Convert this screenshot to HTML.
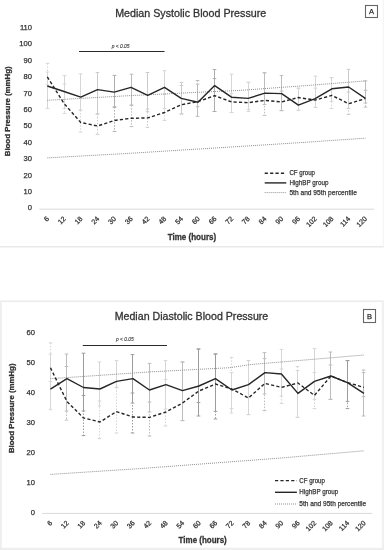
<!DOCTYPE html>
<html><head><meta charset="utf-8"><title>Median Blood Pressure</title>
<style>
html,body{margin:0;padding:0;background:#fff;}
body{width:384px;height:550px;overflow:hidden;position:relative;}
svg{position:absolute;left:0;top:0;}
svg text{font-family:"Liberation Sans", Arial, sans-serif;}
.t{stroke:#333;stroke-width:0.3px;}
.p{stroke:#333;stroke-width:0.1px;}
.n{stroke:#333;stroke-width:0.25px;}
</style></head><body>
<svg width="384" height="550" viewBox="0 0 384 550">
<rect x="0" y="0" width="384" height="550" fill="#fff"/>
<!-- chart A frame (partially cropped) -->
<line x1="0" y1="246.7" x2="384" y2="246.7" stroke="#e9e9e9" stroke-width="1.4"/>
<line x1="383.3" y1="0" x2="383.3" y2="247" stroke="#f3f3f3" stroke-width="1"/>
<!-- chart B frame -->
<line x1="0" y1="301.3" x2="384" y2="301.3" stroke="#ebebeb" stroke-width="1.6"/>
<line x1="0.9" y1="301" x2="0.9" y2="550" stroke="#eeeeee" stroke-width="1.8"/>
<line x1="382.9" y1="301" x2="382.9" y2="550" stroke="#f0f0f0" stroke-width="2.2"/>
<line x1="0" y1="548.9" x2="384" y2="548.9" stroke="#eeeeee" stroke-width="2.4"/>
<line x1="47.5" y1="63.3" x2="47.5" y2="84.8" stroke="#d6d6d6" stroke-width="1" stroke-dasharray="1.5 1.5"/>
<line x1="45.7" y1="63.3" x2="49.3" y2="63.3" stroke="#d6d6d6" stroke-width="1"/>
<line x1="45.7" y1="84.8" x2="49.3" y2="84.8" stroke="#d6d6d6" stroke-width="1"/>
<line x1="47.5" y1="72" x2="47.5" y2="108.4" stroke="#d6d6d6" stroke-width="1"/>
<line x1="45.7" y1="72" x2="49.3" y2="72" stroke="#d6d6d6" stroke-width="1"/>
<line x1="45.7" y1="108.4" x2="49.3" y2="108.4" stroke="#d6d6d6" stroke-width="1"/>
<line x1="64.5" y1="84" x2="64.5" y2="113.4" stroke="#d6d6d6" stroke-width="1" stroke-dasharray="1.5 1.5"/>
<line x1="62.7" y1="84" x2="66.3" y2="84" stroke="#d6d6d6" stroke-width="1"/>
<line x1="62.7" y1="113.4" x2="66.3" y2="113.4" stroke="#d6d6d6" stroke-width="1"/>
<line x1="64.5" y1="75.6" x2="64.5" y2="108.4" stroke="#d6d6d6" stroke-width="1"/>
<line x1="62.7" y1="75.6" x2="66.3" y2="75.6" stroke="#d6d6d6" stroke-width="1"/>
<line x1="62.7" y1="108.4" x2="66.3" y2="108.4" stroke="#d6d6d6" stroke-width="1"/>
<line x1="80.5" y1="110.2" x2="80.5" y2="132" stroke="#d6d6d6" stroke-width="1" stroke-dasharray="1.5 1.5"/>
<line x1="78.7" y1="110.2" x2="82.3" y2="110.2" stroke="#d6d6d6" stroke-width="1"/>
<line x1="78.7" y1="132" x2="82.3" y2="132" stroke="#d6d6d6" stroke-width="1"/>
<line x1="80.5" y1="73.9" x2="80.5" y2="110.2" stroke="#d6d6d6" stroke-width="1"/>
<line x1="78.7" y1="73.9" x2="82.3" y2="73.9" stroke="#d6d6d6" stroke-width="1"/>
<line x1="78.7" y1="110.2" x2="82.3" y2="110.2" stroke="#d6d6d6" stroke-width="1"/>
<line x1="97.5" y1="113.9" x2="97.5" y2="134.3" stroke="#cbcbcb" stroke-width="1" stroke-dasharray="1.5 1.5"/>
<line x1="95.7" y1="113.9" x2="99.3" y2="113.9" stroke="#cbcbcb" stroke-width="1"/>
<line x1="95.7" y1="134.3" x2="99.3" y2="134.3" stroke="#cbcbcb" stroke-width="1"/>
<line x1="97.5" y1="72.5" x2="97.5" y2="113.9" stroke="#cbcbcb" stroke-width="1"/>
<line x1="95.7" y1="72.5" x2="99.3" y2="72.5" stroke="#cbcbcb" stroke-width="1"/>
<line x1="95.7" y1="113.9" x2="99.3" y2="113.9" stroke="#cbcbcb" stroke-width="1"/>
<line x1="114.5" y1="107.1" x2="114.5" y2="131.4" stroke="#adadad" stroke-width="1" stroke-dasharray="1.5 1.5"/>
<line x1="112.7" y1="107.1" x2="116.3" y2="107.1" stroke="#adadad" stroke-width="1"/>
<line x1="112.7" y1="131.4" x2="116.3" y2="131.4" stroke="#adadad" stroke-width="1"/>
<line x1="114.5" y1="75.4" x2="114.5" y2="107.1" stroke="#adadad" stroke-width="1"/>
<line x1="112.7" y1="75.4" x2="116.3" y2="75.4" stroke="#adadad" stroke-width="1"/>
<line x1="112.7" y1="107.1" x2="116.3" y2="107.1" stroke="#adadad" stroke-width="1"/>
<line x1="131.5" y1="105.2" x2="131.5" y2="126.6" stroke="#bcbcbc" stroke-width="1" stroke-dasharray="1.5 1.5"/>
<line x1="129.7" y1="105.2" x2="133.3" y2="105.2" stroke="#bcbcbc" stroke-width="1"/>
<line x1="129.7" y1="126.6" x2="133.3" y2="126.6" stroke="#bcbcbc" stroke-width="1"/>
<line x1="131.5" y1="74.2" x2="131.5" y2="105.2" stroke="#bcbcbc" stroke-width="1"/>
<line x1="129.7" y1="74.2" x2="133.3" y2="74.2" stroke="#bcbcbc" stroke-width="1"/>
<line x1="129.7" y1="105.2" x2="133.3" y2="105.2" stroke="#bcbcbc" stroke-width="1"/>
<line x1="147.5" y1="109.1" x2="147.5" y2="127.3" stroke="#cbcbcb" stroke-width="1" stroke-dasharray="1.5 1.5"/>
<line x1="145.7" y1="109.1" x2="149.3" y2="109.1" stroke="#cbcbcb" stroke-width="1"/>
<line x1="145.7" y1="127.3" x2="149.3" y2="127.3" stroke="#cbcbcb" stroke-width="1"/>
<line x1="147.5" y1="72.5" x2="147.5" y2="111.7" stroke="#cbcbcb" stroke-width="1"/>
<line x1="145.7" y1="72.5" x2="149.3" y2="72.5" stroke="#cbcbcb" stroke-width="1"/>
<line x1="145.7" y1="111.7" x2="149.3" y2="111.7" stroke="#cbcbcb" stroke-width="1"/>
<line x1="164.5" y1="94.3" x2="164.5" y2="120.5" stroke="#d6d6d6" stroke-width="1" stroke-dasharray="1.5 1.5"/>
<line x1="162.7" y1="94.3" x2="166.3" y2="94.3" stroke="#d6d6d6" stroke-width="1"/>
<line x1="162.7" y1="120.5" x2="166.3" y2="120.5" stroke="#d6d6d6" stroke-width="1"/>
<line x1="164.5" y1="70.7" x2="164.5" y2="108.5" stroke="#d6d6d6" stroke-width="1"/>
<line x1="162.7" y1="70.7" x2="166.3" y2="70.7" stroke="#d6d6d6" stroke-width="1"/>
<line x1="162.7" y1="108.5" x2="166.3" y2="108.5" stroke="#d6d6d6" stroke-width="1"/>
<line x1="181.5" y1="85.6" x2="181.5" y2="113.9" stroke="#cbcbcb" stroke-width="1" stroke-dasharray="1.5 1.5"/>
<line x1="179.7" y1="85.6" x2="183.3" y2="85.6" stroke="#cbcbcb" stroke-width="1"/>
<line x1="179.7" y1="113.9" x2="183.3" y2="113.9" stroke="#cbcbcb" stroke-width="1"/>
<line x1="181.5" y1="82.4" x2="181.5" y2="113.9" stroke="#cbcbcb" stroke-width="1"/>
<line x1="179.7" y1="82.4" x2="183.3" y2="82.4" stroke="#cbcbcb" stroke-width="1"/>
<line x1="179.7" y1="113.9" x2="183.3" y2="113.9" stroke="#cbcbcb" stroke-width="1"/>
<line x1="197.5" y1="80.5" x2="197.5" y2="106.7" stroke="#bcbcbc" stroke-width="1" stroke-dasharray="1.5 1.5"/>
<line x1="195.7" y1="80.5" x2="199.3" y2="80.5" stroke="#bcbcbc" stroke-width="1"/>
<line x1="195.7" y1="106.7" x2="199.3" y2="106.7" stroke="#bcbcbc" stroke-width="1"/>
<line x1="197.5" y1="84.1" x2="197.5" y2="116.4" stroke="#bcbcbc" stroke-width="1"/>
<line x1="195.7" y1="84.1" x2="199.3" y2="84.1" stroke="#bcbcbc" stroke-width="1"/>
<line x1="195.7" y1="116.4" x2="199.3" y2="116.4" stroke="#bcbcbc" stroke-width="1"/>
<line x1="214.5" y1="78.6" x2="214.5" y2="111.5" stroke="#adadad" stroke-width="1" stroke-dasharray="1.5 1.5"/>
<line x1="212.7" y1="78.6" x2="216.3" y2="78.6" stroke="#adadad" stroke-width="1"/>
<line x1="212.7" y1="111.5" x2="216.3" y2="111.5" stroke="#adadad" stroke-width="1"/>
<line x1="214.5" y1="69.5" x2="214.5" y2="111.5" stroke="#adadad" stroke-width="1"/>
<line x1="212.7" y1="69.5" x2="216.3" y2="69.5" stroke="#adadad" stroke-width="1"/>
<line x1="212.7" y1="111.5" x2="216.3" y2="111.5" stroke="#adadad" stroke-width="1"/>
<line x1="231.5" y1="93.6" x2="231.5" y2="112.5" stroke="#d6d6d6" stroke-width="1" stroke-dasharray="1.5 1.5"/>
<line x1="229.7" y1="93.6" x2="233.3" y2="93.6" stroke="#d6d6d6" stroke-width="1"/>
<line x1="229.7" y1="112.5" x2="233.3" y2="112.5" stroke="#d6d6d6" stroke-width="1"/>
<line x1="231.5" y1="74.2" x2="231.5" y2="112.5" stroke="#d6d6d6" stroke-width="1"/>
<line x1="229.7" y1="74.2" x2="233.3" y2="74.2" stroke="#d6d6d6" stroke-width="1"/>
<line x1="229.7" y1="112.5" x2="233.3" y2="112.5" stroke="#d6d6d6" stroke-width="1"/>
<line x1="248.5" y1="82.3" x2="248.5" y2="111.6" stroke="#d6d6d6" stroke-width="1" stroke-dasharray="1.5 1.5"/>
<line x1="246.7" y1="82.3" x2="250.3" y2="82.3" stroke="#d6d6d6" stroke-width="1"/>
<line x1="246.7" y1="111.6" x2="250.3" y2="111.6" stroke="#d6d6d6" stroke-width="1"/>
<line x1="248.5" y1="82.3" x2="248.5" y2="109.6" stroke="#d6d6d6" stroke-width="1"/>
<line x1="246.7" y1="82.3" x2="250.3" y2="82.3" stroke="#d6d6d6" stroke-width="1"/>
<line x1="246.7" y1="109.6" x2="250.3" y2="109.6" stroke="#d6d6d6" stroke-width="1"/>
<line x1="264.5" y1="72.8" x2="264.5" y2="115.4" stroke="#bcbcbc" stroke-width="1" stroke-dasharray="1.5 1.5"/>
<line x1="262.7" y1="72.8" x2="266.3" y2="72.8" stroke="#bcbcbc" stroke-width="1"/>
<line x1="262.7" y1="115.4" x2="266.3" y2="115.4" stroke="#bcbcbc" stroke-width="1"/>
<line x1="264.5" y1="72.8" x2="264.5" y2="104.5" stroke="#bcbcbc" stroke-width="1"/>
<line x1="262.7" y1="72.8" x2="266.3" y2="72.8" stroke="#bcbcbc" stroke-width="1"/>
<line x1="262.7" y1="104.5" x2="266.3" y2="104.5" stroke="#bcbcbc" stroke-width="1"/>
<line x1="281.5" y1="91.1" x2="281.5" y2="110.6" stroke="#bcbcbc" stroke-width="1" stroke-dasharray="1.5 1.5"/>
<line x1="279.7" y1="91.1" x2="283.3" y2="91.1" stroke="#bcbcbc" stroke-width="1"/>
<line x1="279.7" y1="110.6" x2="283.3" y2="110.6" stroke="#bcbcbc" stroke-width="1"/>
<line x1="281.5" y1="75.4" x2="281.5" y2="110.6" stroke="#bcbcbc" stroke-width="1"/>
<line x1="279.7" y1="75.4" x2="283.3" y2="75.4" stroke="#bcbcbc" stroke-width="1"/>
<line x1="279.7" y1="110.6" x2="283.3" y2="110.6" stroke="#bcbcbc" stroke-width="1"/>
<line x1="298.5" y1="88.2" x2="298.5" y2="110.3" stroke="#d6d6d6" stroke-width="1" stroke-dasharray="1.5 1.5"/>
<line x1="296.7" y1="88.2" x2="300.3" y2="88.2" stroke="#d6d6d6" stroke-width="1"/>
<line x1="296.7" y1="110.3" x2="300.3" y2="110.3" stroke="#d6d6d6" stroke-width="1"/>
<line x1="298.5" y1="88.2" x2="298.5" y2="110.3" stroke="#d6d6d6" stroke-width="1"/>
<line x1="296.7" y1="88.2" x2="300.3" y2="88.2" stroke="#d6d6d6" stroke-width="1"/>
<line x1="296.7" y1="110.3" x2="300.3" y2="110.3" stroke="#d6d6d6" stroke-width="1"/>
<line x1="315.5" y1="88.2" x2="315.5" y2="107.4" stroke="#d6d6d6" stroke-width="1" stroke-dasharray="1.5 1.5"/>
<line x1="313.7" y1="88.2" x2="317.3" y2="88.2" stroke="#d6d6d6" stroke-width="1"/>
<line x1="313.7" y1="107.4" x2="317.3" y2="107.4" stroke="#d6d6d6" stroke-width="1"/>
<line x1="315.5" y1="76.1" x2="315.5" y2="107.4" stroke="#d6d6d6" stroke-width="1"/>
<line x1="313.7" y1="76.1" x2="317.3" y2="76.1" stroke="#d6d6d6" stroke-width="1"/>
<line x1="313.7" y1="107.4" x2="317.3" y2="107.4" stroke="#d6d6d6" stroke-width="1"/>
<line x1="331.5" y1="77.6" x2="331.5" y2="108.5" stroke="#d6d6d6" stroke-width="1" stroke-dasharray="1.5 1.5"/>
<line x1="329.7" y1="77.6" x2="333.3" y2="77.6" stroke="#d6d6d6" stroke-width="1"/>
<line x1="329.7" y1="108.5" x2="333.3" y2="108.5" stroke="#d6d6d6" stroke-width="1"/>
<line x1="331.5" y1="77.6" x2="331.5" y2="101.3" stroke="#d6d6d6" stroke-width="1"/>
<line x1="329.7" y1="77.6" x2="333.3" y2="77.6" stroke="#d6d6d6" stroke-width="1"/>
<line x1="329.7" y1="101.3" x2="333.3" y2="101.3" stroke="#d6d6d6" stroke-width="1"/>
<line x1="348.5" y1="92.1" x2="348.5" y2="114.4" stroke="#cbcbcb" stroke-width="1" stroke-dasharray="1.5 1.5"/>
<line x1="346.7" y1="92.1" x2="350.3" y2="92.1" stroke="#cbcbcb" stroke-width="1"/>
<line x1="346.7" y1="114.4" x2="350.3" y2="114.4" stroke="#cbcbcb" stroke-width="1"/>
<line x1="348.5" y1="69.3" x2="348.5" y2="108.5" stroke="#cbcbcb" stroke-width="1"/>
<line x1="346.7" y1="69.3" x2="350.3" y2="69.3" stroke="#cbcbcb" stroke-width="1"/>
<line x1="346.7" y1="108.5" x2="350.3" y2="108.5" stroke="#cbcbcb" stroke-width="1"/>
<line x1="365.5" y1="90.2" x2="365.5" y2="107.1" stroke="#bcbcbc" stroke-width="1" stroke-dasharray="1.5 1.5"/>
<line x1="363.7" y1="90.2" x2="367.3" y2="90.2" stroke="#bcbcbc" stroke-width="1"/>
<line x1="363.7" y1="107.1" x2="367.3" y2="107.1" stroke="#bcbcbc" stroke-width="1"/>
<line x1="365.5" y1="80.9" x2="365.5" y2="103" stroke="#bcbcbc" stroke-width="1"/>
<line x1="363.7" y1="80.9" x2="367.3" y2="80.9" stroke="#bcbcbc" stroke-width="1"/>
<line x1="363.7" y1="103" x2="367.3" y2="103" stroke="#bcbcbc" stroke-width="1"/>
<line x1="39.3" y1="209.2" x2="374" y2="209.2" stroke="#d9d9d9" stroke-width="1"/>
<polyline points="47.3,100.3 125,95.9 200,92.2 240,90.4 310,85.3 365.4,80.9" fill="none" stroke="#909090" stroke-width="1" stroke-dasharray="1 1"/>
<polyline points="47.3,157.9 130,153.3 290,143.3 365.4,138.2" fill="none" stroke="#909090" stroke-width="1" stroke-dasharray="1 1"/>
<polyline points="47.3,76.8 64.04,103.5 80.78,122.5 97.52,126 114.26,120.5 131,118.3 147.74,117.9 164.48,112.5 181.22,104.8 197.96,101.6 214.7,95.7 231.44,101.9 248.18,102.7 264.92,100.4 281.66,101.9 298.4,97.5 315.14,100.1 331.88,95.4 348.62,103.7 365.36,98.6" fill="none" stroke="#262626" stroke-width="1.4" stroke-dasharray="3.2 2.2" stroke-linejoin="round"/>
<polyline points="47.3,86 64.04,91.5 80.78,97.1 97.52,89.6 114.26,92.1 131,87.3 147.74,95.4 164.48,87.3 181.22,98.4 197.96,102.3 214.7,85.6 231.44,97.2 248.18,98.4 264.92,93.1 281.66,93.6 298.4,105.2 315.14,98.6 331.88,88.8 348.62,87 365.36,98.4" fill="none" stroke="#262626" stroke-width="1.4" stroke-linejoin="round"/>
<text class="n" x="32" y="210.3" font-size="7.6" fill="#333333" text-anchor="end">0</text>
<text class="n" x="32" y="193.9" font-size="7.6" fill="#333333" text-anchor="end">10</text>
<text class="n" x="32" y="177.5" font-size="7.6" fill="#333333" text-anchor="end">20</text>
<text class="n" x="32" y="161.1" font-size="7.6" fill="#333333" text-anchor="end">30</text>
<text class="n" x="32" y="144.7" font-size="7.6" fill="#333333" text-anchor="end">40</text>
<text class="n" x="32" y="128.3" font-size="7.6" fill="#333333" text-anchor="end">50</text>
<text class="n" x="32" y="111.9" font-size="7.6" fill="#333333" text-anchor="end">60</text>
<text class="n" x="32" y="95.5" font-size="7.6" fill="#333333" text-anchor="end">70</text>
<text class="n" x="32" y="79.1" font-size="7.6" fill="#333333" text-anchor="end">80</text>
<text class="n" x="32" y="62.7" font-size="7.6" fill="#333333" text-anchor="end">90</text>
<text class="n" x="32" y="46.3" font-size="7.6" fill="#333333" text-anchor="end">100</text>
<text class="n" x="32" y="29.9" font-size="7.6" fill="#333333" text-anchor="end">110</text>
<text class="n" transform="translate(49.5 219.3) rotate(-45)" font-size="7" fill="#333333" text-anchor="end">6</text>
<text class="n" transform="translate(66.24 219.3) rotate(-45)" font-size="7" fill="#333333" text-anchor="end">12</text>
<text class="n" transform="translate(82.98 219.3) rotate(-45)" font-size="7" fill="#333333" text-anchor="end">18</text>
<text class="n" transform="translate(99.72 219.3) rotate(-45)" font-size="7" fill="#333333" text-anchor="end">24</text>
<text class="n" transform="translate(116.46 219.3) rotate(-45)" font-size="7" fill="#333333" text-anchor="end">30</text>
<text class="n" transform="translate(133.2 219.3) rotate(-45)" font-size="7" fill="#333333" text-anchor="end">36</text>
<text class="n" transform="translate(149.94 219.3) rotate(-45)" font-size="7" fill="#333333" text-anchor="end">42</text>
<text class="n" transform="translate(166.68 219.3) rotate(-45)" font-size="7" fill="#333333" text-anchor="end">48</text>
<text class="n" transform="translate(183.42 219.3) rotate(-45)" font-size="7" fill="#333333" text-anchor="end">54</text>
<text class="n" transform="translate(200.16 219.3) rotate(-45)" font-size="7" fill="#333333" text-anchor="end">60</text>
<text class="n" transform="translate(216.9 219.3) rotate(-45)" font-size="7" fill="#333333" text-anchor="end">66</text>
<text class="n" transform="translate(233.64 219.3) rotate(-45)" font-size="7" fill="#333333" text-anchor="end">72</text>
<text class="n" transform="translate(250.38 219.3) rotate(-45)" font-size="7" fill="#333333" text-anchor="end">78</text>
<text class="n" transform="translate(267.12 219.3) rotate(-45)" font-size="7" fill="#333333" text-anchor="end">84</text>
<text class="n" transform="translate(283.86 219.3) rotate(-45)" font-size="7" fill="#333333" text-anchor="end">90</text>
<text class="n" transform="translate(300.6 219.3) rotate(-45)" font-size="7" fill="#333333" text-anchor="end">96</text>
<text class="n" transform="translate(317.34 219.3) rotate(-45)" font-size="7" fill="#333333" text-anchor="end">102</text>
<text class="n" transform="translate(334.08 219.3) rotate(-45)" font-size="7" fill="#333333" text-anchor="end">108</text>
<text class="n" transform="translate(350.82 219.3) rotate(-45)" font-size="7" fill="#333333" text-anchor="end">114</text>
<text class="n" transform="translate(367.56 219.3) rotate(-45)" font-size="7" fill="#333333" text-anchor="end">120</text>
<line x1="79" y1="51.5" x2="164.5" y2="51.5" stroke="#2a2a2a" stroke-width="1"/>
<text x="111.8" y="47.6" font-size="5" font-style="italic" fill="#333333" class="p" textLength="17.7" lengthAdjust="spacingAndGlyphs">p &lt; 0.05</text>
<text class="t" x="115.2" y="16.6" font-size="10.6" fill="#333" textLength="151" lengthAdjust="spacingAndGlyphs">Median Systolic Blood Pressure</text>
<rect x="365.5" y="5.5" width="12" height="12" fill="#fff" stroke="#666" stroke-width="1.1"/>
<text class="n" x="371.5" y="14.2" font-size="7.5" fill="#222" text-anchor="middle">A</text>
<text class="t" transform="translate(9.9 111.3) rotate(-90)" font-size="8" font-weight="bold" fill="#333" text-anchor="middle" textLength="90" lengthAdjust="spacingAndGlyphs">Blood Pressure (mmHg)</text>
<text class="t" x="167.7" y="240" font-size="8.8" font-weight="bold" fill="#333" textLength="48.5" lengthAdjust="spacingAndGlyphs">Time (hours)</text>
<line x1="264.7" y1="173.2" x2="286.3" y2="173.2" stroke="#262626" stroke-width="1.4" stroke-dasharray="3.2 2.2"/>
<text class="n" x="289.4" y="175.1" font-size="7.6" fill="#333333" textLength="25.6" lengthAdjust="spacingAndGlyphs">CF group</text>
<line x1="264.7" y1="182.9" x2="286.3" y2="182.9" stroke="#262626" stroke-width="1.4"/>
<text class="n" x="289.4" y="184.8" font-size="7.6" fill="#333333" textLength="39" lengthAdjust="spacingAndGlyphs">HighBP group</text>
<line x1="264.7" y1="192.6" x2="286.3" y2="192.6" stroke="#909090" stroke-width="1" stroke-dasharray="1 1"/>
<text class="n" x="289.4" y="194.5" font-size="7.6" fill="#333333" textLength="67.5" lengthAdjust="spacingAndGlyphs">5th and 95th percentile</text>
<line x1="50.5" y1="342.9" x2="50.5" y2="381.5" stroke="#d6d6d6" stroke-width="1" stroke-dasharray="1.5 1.5"/>
<line x1="48.7" y1="342.9" x2="52.3" y2="342.9" stroke="#d6d6d6" stroke-width="1"/>
<line x1="48.7" y1="381.5" x2="52.3" y2="381.5" stroke="#d6d6d6" stroke-width="1"/>
<line x1="50.5" y1="354.1" x2="50.5" y2="409.7" stroke="#d6d6d6" stroke-width="1"/>
<line x1="48.7" y1="354.1" x2="52.3" y2="354.1" stroke="#d6d6d6" stroke-width="1"/>
<line x1="48.7" y1="409.7" x2="52.3" y2="409.7" stroke="#d6d6d6" stroke-width="1"/>
<line x1="66.5" y1="366.5" x2="66.5" y2="420.1" stroke="#bcbcbc" stroke-width="1" stroke-dasharray="1.5 1.5"/>
<line x1="64.7" y1="366.5" x2="68.3" y2="366.5" stroke="#bcbcbc" stroke-width="1"/>
<line x1="64.7" y1="420.1" x2="68.3" y2="420.1" stroke="#bcbcbc" stroke-width="1"/>
<line x1="66.5" y1="354.1" x2="66.5" y2="411" stroke="#bcbcbc" stroke-width="1"/>
<line x1="64.7" y1="354.1" x2="68.3" y2="354.1" stroke="#bcbcbc" stroke-width="1"/>
<line x1="64.7" y1="411" x2="68.3" y2="411" stroke="#bcbcbc" stroke-width="1"/>
<line x1="83.5" y1="395.5" x2="83.5" y2="435.6" stroke="#9c9c9c" stroke-width="1" stroke-dasharray="1.5 1.5"/>
<line x1="81.7" y1="395.5" x2="85.3" y2="395.5" stroke="#9c9c9c" stroke-width="1"/>
<line x1="81.7" y1="435.6" x2="85.3" y2="435.6" stroke="#9c9c9c" stroke-width="1"/>
<line x1="83.5" y1="353.2" x2="83.5" y2="411" stroke="#9c9c9c" stroke-width="1"/>
<line x1="81.7" y1="353.2" x2="85.3" y2="353.2" stroke="#9c9c9c" stroke-width="1"/>
<line x1="81.7" y1="411" x2="85.3" y2="411" stroke="#9c9c9c" stroke-width="1"/>
<line x1="99.5" y1="401" x2="99.5" y2="438.6" stroke="#d6d6d6" stroke-width="1" stroke-dasharray="1.5 1.5"/>
<line x1="97.7" y1="401" x2="101.3" y2="401" stroke="#d6d6d6" stroke-width="1"/>
<line x1="97.7" y1="438.6" x2="101.3" y2="438.6" stroke="#d6d6d6" stroke-width="1"/>
<line x1="99.5" y1="362" x2="99.5" y2="406" stroke="#d6d6d6" stroke-width="1"/>
<line x1="97.7" y1="362" x2="101.3" y2="362" stroke="#d6d6d6" stroke-width="1"/>
<line x1="97.7" y1="406" x2="101.3" y2="406" stroke="#d6d6d6" stroke-width="1"/>
<line x1="116.5" y1="387.4" x2="116.5" y2="433" stroke="#d6d6d6" stroke-width="1" stroke-dasharray="1.5 1.5"/>
<line x1="114.7" y1="387.4" x2="118.3" y2="387.4" stroke="#d6d6d6" stroke-width="1"/>
<line x1="114.7" y1="433" x2="118.3" y2="433" stroke="#d6d6d6" stroke-width="1"/>
<line x1="116.5" y1="360.6" x2="116.5" y2="387.4" stroke="#d6d6d6" stroke-width="1"/>
<line x1="114.7" y1="360.6" x2="118.3" y2="360.6" stroke="#d6d6d6" stroke-width="1"/>
<line x1="114.7" y1="387.4" x2="118.3" y2="387.4" stroke="#d6d6d6" stroke-width="1"/>
<line x1="132.5" y1="393" x2="132.5" y2="433" stroke="#9c9c9c" stroke-width="1" stroke-dasharray="1.5 1.5"/>
<line x1="130.7" y1="393" x2="134.3" y2="393" stroke="#9c9c9c" stroke-width="1"/>
<line x1="130.7" y1="433" x2="134.3" y2="433" stroke="#9c9c9c" stroke-width="1"/>
<line x1="132.5" y1="354.6" x2="132.5" y2="403" stroke="#9c9c9c" stroke-width="1"/>
<line x1="130.7" y1="354.6" x2="134.3" y2="354.6" stroke="#9c9c9c" stroke-width="1"/>
<line x1="130.7" y1="403" x2="134.3" y2="403" stroke="#9c9c9c" stroke-width="1"/>
<line x1="149.5" y1="402" x2="149.5" y2="436" stroke="#bcbcbc" stroke-width="1" stroke-dasharray="1.5 1.5"/>
<line x1="147.7" y1="402" x2="151.3" y2="402" stroke="#bcbcbc" stroke-width="1"/>
<line x1="147.7" y1="436" x2="151.3" y2="436" stroke="#bcbcbc" stroke-width="1"/>
<line x1="149.5" y1="363.4" x2="149.5" y2="412" stroke="#bcbcbc" stroke-width="1"/>
<line x1="147.7" y1="363.4" x2="151.3" y2="363.4" stroke="#bcbcbc" stroke-width="1"/>
<line x1="147.7" y1="412" x2="151.3" y2="412" stroke="#bcbcbc" stroke-width="1"/>
<line x1="165.5" y1="379.4" x2="165.5" y2="426" stroke="#d6d6d6" stroke-width="1" stroke-dasharray="1.5 1.5"/>
<line x1="163.7" y1="379.4" x2="167.3" y2="379.4" stroke="#d6d6d6" stroke-width="1"/>
<line x1="163.7" y1="426" x2="167.3" y2="426" stroke="#d6d6d6" stroke-width="1"/>
<line x1="165.5" y1="360.6" x2="165.5" y2="409" stroke="#d6d6d6" stroke-width="1"/>
<line x1="163.7" y1="360.6" x2="167.3" y2="360.6" stroke="#d6d6d6" stroke-width="1"/>
<line x1="163.7" y1="409" x2="167.3" y2="409" stroke="#d6d6d6" stroke-width="1"/>
<line x1="182.5" y1="362" x2="182.5" y2="420.6" stroke="#bcbcbc" stroke-width="1" stroke-dasharray="1.5 1.5"/>
<line x1="180.7" y1="362" x2="184.3" y2="362" stroke="#bcbcbc" stroke-width="1"/>
<line x1="180.7" y1="420.6" x2="184.3" y2="420.6" stroke="#bcbcbc" stroke-width="1"/>
<line x1="182.5" y1="362" x2="182.5" y2="420.6" stroke="#bcbcbc" stroke-width="1"/>
<line x1="180.7" y1="362" x2="184.3" y2="362" stroke="#bcbcbc" stroke-width="1"/>
<line x1="180.7" y1="420.6" x2="184.3" y2="420.6" stroke="#bcbcbc" stroke-width="1"/>
<line x1="198.5" y1="349" x2="198.5" y2="402.6" stroke="#9c9c9c" stroke-width="1" stroke-dasharray="1.5 1.5"/>
<line x1="196.7" y1="349" x2="200.3" y2="349" stroke="#9c9c9c" stroke-width="1"/>
<line x1="196.7" y1="402.6" x2="200.3" y2="402.6" stroke="#9c9c9c" stroke-width="1"/>
<line x1="198.5" y1="349" x2="198.5" y2="416" stroke="#9c9c9c" stroke-width="1"/>
<line x1="196.7" y1="349" x2="200.3" y2="349" stroke="#9c9c9c" stroke-width="1"/>
<line x1="196.7" y1="416" x2="200.3" y2="416" stroke="#9c9c9c" stroke-width="1"/>
<line x1="215.5" y1="354" x2="215.5" y2="419" stroke="#9c9c9c" stroke-width="1" stroke-dasharray="1.5 1.5"/>
<line x1="213.7" y1="354" x2="217.3" y2="354" stroke="#9c9c9c" stroke-width="1"/>
<line x1="213.7" y1="419" x2="217.3" y2="419" stroke="#9c9c9c" stroke-width="1"/>
<line x1="215.5" y1="354" x2="215.5" y2="411.4" stroke="#9c9c9c" stroke-width="1"/>
<line x1="213.7" y1="354" x2="217.3" y2="354" stroke="#9c9c9c" stroke-width="1"/>
<line x1="213.7" y1="411.4" x2="217.3" y2="411.4" stroke="#9c9c9c" stroke-width="1"/>
<line x1="231.5" y1="357.4" x2="231.5" y2="408.6" stroke="#d6d6d6" stroke-width="1" stroke-dasharray="1.5 1.5"/>
<line x1="229.7" y1="357.4" x2="233.3" y2="357.4" stroke="#d6d6d6" stroke-width="1"/>
<line x1="229.7" y1="408.6" x2="233.3" y2="408.6" stroke="#d6d6d6" stroke-width="1"/>
<line x1="231.5" y1="372.6" x2="231.5" y2="413" stroke="#d6d6d6" stroke-width="1"/>
<line x1="229.7" y1="372.6" x2="233.3" y2="372.6" stroke="#d6d6d6" stroke-width="1"/>
<line x1="229.7" y1="413" x2="233.3" y2="413" stroke="#d6d6d6" stroke-width="1"/>
<line x1="248.5" y1="360.6" x2="248.5" y2="414.6" stroke="#d6d6d6" stroke-width="1" stroke-dasharray="1.5 1.5"/>
<line x1="246.7" y1="360.6" x2="250.3" y2="360.6" stroke="#d6d6d6" stroke-width="1"/>
<line x1="246.7" y1="414.6" x2="250.3" y2="414.6" stroke="#d6d6d6" stroke-width="1"/>
<line x1="248.5" y1="360.6" x2="248.5" y2="414.6" stroke="#d6d6d6" stroke-width="1"/>
<line x1="246.7" y1="360.6" x2="250.3" y2="360.6" stroke="#d6d6d6" stroke-width="1"/>
<line x1="246.7" y1="414.6" x2="250.3" y2="414.6" stroke="#d6d6d6" stroke-width="1"/>
<line x1="264.5" y1="358.6" x2="264.5" y2="410.6" stroke="#bcbcbc" stroke-width="1" stroke-dasharray="1.5 1.5"/>
<line x1="262.7" y1="358.6" x2="266.3" y2="358.6" stroke="#bcbcbc" stroke-width="1"/>
<line x1="262.7" y1="410.6" x2="266.3" y2="410.6" stroke="#bcbcbc" stroke-width="1"/>
<line x1="264.5" y1="352.6" x2="264.5" y2="394" stroke="#bcbcbc" stroke-width="1"/>
<line x1="262.7" y1="352.6" x2="266.3" y2="352.6" stroke="#bcbcbc" stroke-width="1"/>
<line x1="262.7" y1="394" x2="266.3" y2="394" stroke="#bcbcbc" stroke-width="1"/>
<line x1="281.5" y1="369" x2="281.5" y2="403.4" stroke="#d6d6d6" stroke-width="1" stroke-dasharray="1.5 1.5"/>
<line x1="279.7" y1="369" x2="283.3" y2="369" stroke="#d6d6d6" stroke-width="1"/>
<line x1="279.7" y1="403.4" x2="283.3" y2="403.4" stroke="#d6d6d6" stroke-width="1"/>
<line x1="281.5" y1="349.4" x2="281.5" y2="396" stroke="#d6d6d6" stroke-width="1"/>
<line x1="279.7" y1="349.4" x2="283.3" y2="349.4" stroke="#d6d6d6" stroke-width="1"/>
<line x1="279.7" y1="396" x2="283.3" y2="396" stroke="#d6d6d6" stroke-width="1"/>
<line x1="297.5" y1="366.6" x2="297.5" y2="417.4" stroke="#d6d6d6" stroke-width="1" stroke-dasharray="1.5 1.5"/>
<line x1="295.7" y1="366.6" x2="299.3" y2="366.6" stroke="#d6d6d6" stroke-width="1"/>
<line x1="295.7" y1="417.4" x2="299.3" y2="417.4" stroke="#d6d6d6" stroke-width="1"/>
<line x1="297.5" y1="370.6" x2="297.5" y2="417.4" stroke="#d6d6d6" stroke-width="1"/>
<line x1="295.7" y1="370.6" x2="299.3" y2="370.6" stroke="#d6d6d6" stroke-width="1"/>
<line x1="295.7" y1="417.4" x2="299.3" y2="417.4" stroke="#d6d6d6" stroke-width="1"/>
<line x1="314.5" y1="372.6" x2="314.5" y2="408.6" stroke="#d6d6d6" stroke-width="1" stroke-dasharray="1.5 1.5"/>
<line x1="312.7" y1="372.6" x2="316.3" y2="372.6" stroke="#d6d6d6" stroke-width="1"/>
<line x1="312.7" y1="408.6" x2="316.3" y2="408.6" stroke="#d6d6d6" stroke-width="1"/>
<line x1="314.5" y1="348.6" x2="314.5" y2="399.4" stroke="#d6d6d6" stroke-width="1"/>
<line x1="312.7" y1="348.6" x2="316.3" y2="348.6" stroke="#d6d6d6" stroke-width="1"/>
<line x1="312.7" y1="399.4" x2="316.3" y2="399.4" stroke="#d6d6d6" stroke-width="1"/>
<line x1="330.5" y1="365" x2="330.5" y2="399.4" stroke="#bcbcbc" stroke-width="1" stroke-dasharray="1.5 1.5"/>
<line x1="328.7" y1="365" x2="332.3" y2="365" stroke="#bcbcbc" stroke-width="1"/>
<line x1="328.7" y1="399.4" x2="332.3" y2="399.4" stroke="#bcbcbc" stroke-width="1"/>
<line x1="330.5" y1="352" x2="330.5" y2="399.4" stroke="#bcbcbc" stroke-width="1"/>
<line x1="328.7" y1="352" x2="332.3" y2="352" stroke="#bcbcbc" stroke-width="1"/>
<line x1="328.7" y1="399.4" x2="332.3" y2="399.4" stroke="#bcbcbc" stroke-width="1"/>
<line x1="347.5" y1="360.6" x2="347.5" y2="408.6" stroke="#9c9c9c" stroke-width="1" stroke-dasharray="1.5 1.5"/>
<line x1="345.7" y1="360.6" x2="349.3" y2="360.6" stroke="#9c9c9c" stroke-width="1"/>
<line x1="345.7" y1="408.6" x2="349.3" y2="408.6" stroke="#9c9c9c" stroke-width="1"/>
<line x1="347.5" y1="360.6" x2="347.5" y2="401.4" stroke="#9c9c9c" stroke-width="1"/>
<line x1="345.7" y1="360.6" x2="349.3" y2="360.6" stroke="#9c9c9c" stroke-width="1"/>
<line x1="345.7" y1="401.4" x2="349.3" y2="401.4" stroke="#9c9c9c" stroke-width="1"/>
<line x1="363.5" y1="370" x2="363.5" y2="396.6" stroke="#bcbcbc" stroke-width="1" stroke-dasharray="1.5 1.5"/>
<line x1="361.7" y1="370" x2="365.3" y2="370" stroke="#bcbcbc" stroke-width="1"/>
<line x1="361.7" y1="396.6" x2="365.3" y2="396.6" stroke="#bcbcbc" stroke-width="1"/>
<line x1="363.5" y1="372.6" x2="363.5" y2="416" stroke="#bcbcbc" stroke-width="1"/>
<line x1="361.7" y1="372.6" x2="365.3" y2="372.6" stroke="#bcbcbc" stroke-width="1"/>
<line x1="361.7" y1="416" x2="365.3" y2="416" stroke="#bcbcbc" stroke-width="1"/>
<line x1="42.2" y1="513.4" x2="372.2" y2="513.4" stroke="#d9d9d9" stroke-width="1"/>
<polyline points="50.4,378.7 150,371.9 230,367.7 250,364.6 330,357.9 364,355" fill="none" stroke="#909090" stroke-width="1" stroke-dasharray="1 1"/>
<polyline points="50.4,474.4 140,468.6 280,458.1 364,450.8" fill="none" stroke="#909090" stroke-width="1" stroke-dasharray="1 1"/>
<polyline points="50.45,367.8 66.95,401.5 83.45,417.9 99.95,422 116.45,411.6 132.95,417 149.45,417.4 165.95,412 182.45,403 198.95,391 215.45,384 231.95,389 248.45,398 264.95,383.4 281.45,387.4 297.95,383 314.45,395.4 330.95,376 347.45,382.6 363.95,387.4" fill="none" stroke="#262626" stroke-width="1.4" stroke-dasharray="3.2 2.2" stroke-linejoin="round"/>
<polyline points="50.45,389.1 66.95,378.7 83.45,387.5 99.95,389 116.45,381.4 132.95,378.6 149.45,390 165.95,384.6 182.45,390.6 198.95,386 215.45,378.6 231.95,390 248.45,384.6 264.95,372.6 281.45,374 297.95,393.4 314.45,381.4 330.95,376 347.45,382.6 363.95,393.4" fill="none" stroke="#262626" stroke-width="1.4" stroke-linejoin="round"/>
<text class="n" x="35" y="515.1" font-size="7.6" fill="#333333" text-anchor="end">0</text>
<text class="n" x="35" y="485.1" font-size="7.6" fill="#333333" text-anchor="end">10</text>
<text class="n" x="35" y="455.1" font-size="7.6" fill="#333333" text-anchor="end">20</text>
<text class="n" x="35" y="425.1" font-size="7.6" fill="#333333" text-anchor="end">30</text>
<text class="n" x="35" y="395.1" font-size="7.6" fill="#333333" text-anchor="end">40</text>
<text class="n" x="35" y="365.1" font-size="7.6" fill="#333333" text-anchor="end">50</text>
<text class="n" x="35" y="335.1" font-size="7.6" fill="#333333" text-anchor="end">60</text>
<text class="n" transform="translate(52.65 523.6) rotate(-45)" font-size="7" fill="#333333" text-anchor="end">6</text>
<text class="n" transform="translate(69.15 523.6) rotate(-45)" font-size="7" fill="#333333" text-anchor="end">12</text>
<text class="n" transform="translate(85.65 523.6) rotate(-45)" font-size="7" fill="#333333" text-anchor="end">18</text>
<text class="n" transform="translate(102.15 523.6) rotate(-45)" font-size="7" fill="#333333" text-anchor="end">24</text>
<text class="n" transform="translate(118.65 523.6) rotate(-45)" font-size="7" fill="#333333" text-anchor="end">30</text>
<text class="n" transform="translate(135.15 523.6) rotate(-45)" font-size="7" fill="#333333" text-anchor="end">36</text>
<text class="n" transform="translate(151.65 523.6) rotate(-45)" font-size="7" fill="#333333" text-anchor="end">42</text>
<text class="n" transform="translate(168.15 523.6) rotate(-45)" font-size="7" fill="#333333" text-anchor="end">48</text>
<text class="n" transform="translate(184.65 523.6) rotate(-45)" font-size="7" fill="#333333" text-anchor="end">54</text>
<text class="n" transform="translate(201.15 523.6) rotate(-45)" font-size="7" fill="#333333" text-anchor="end">60</text>
<text class="n" transform="translate(217.65 523.6) rotate(-45)" font-size="7" fill="#333333" text-anchor="end">66</text>
<text class="n" transform="translate(234.15 523.6) rotate(-45)" font-size="7" fill="#333333" text-anchor="end">72</text>
<text class="n" transform="translate(250.65 523.6) rotate(-45)" font-size="7" fill="#333333" text-anchor="end">78</text>
<text class="n" transform="translate(267.15 523.6) rotate(-45)" font-size="7" fill="#333333" text-anchor="end">84</text>
<text class="n" transform="translate(283.65 523.6) rotate(-45)" font-size="7" fill="#333333" text-anchor="end">90</text>
<text class="n" transform="translate(300.15 523.6) rotate(-45)" font-size="7" fill="#333333" text-anchor="end">96</text>
<text class="n" transform="translate(316.65 523.6) rotate(-45)" font-size="7" fill="#333333" text-anchor="end">102</text>
<text class="n" transform="translate(333.15 523.6) rotate(-45)" font-size="7" fill="#333333" text-anchor="end">108</text>
<text class="n" transform="translate(349.65 523.6) rotate(-45)" font-size="7" fill="#333333" text-anchor="end">114</text>
<text class="n" transform="translate(366.15 523.6) rotate(-45)" font-size="7" fill="#333333" text-anchor="end">120</text>
<line x1="82.8" y1="345.5" x2="167" y2="345.5" stroke="#2a2a2a" stroke-width="1"/>
<text x="116.1" y="341.4" font-size="5" font-style="italic" fill="#333333" class="p" textLength="17.5" lengthAdjust="spacingAndGlyphs">p &lt; 0.05</text>
<text class="t" x="114.7" y="319.6" font-size="10.6" fill="#333" textLength="153.6" lengthAdjust="spacingAndGlyphs">Median Diastolic Blood Pressure</text>
<rect x="363.5" y="309.5" width="12" height="13" fill="#fff" stroke="#666" stroke-width="1.1"/>
<text class="n" x="369.5" y="318.7" font-size="7.5" fill="#222" text-anchor="middle">B</text>
<text class="t" transform="translate(13.5 408.3) rotate(-90)" font-size="8" font-weight="bold" fill="#333" text-anchor="middle" textLength="89.6" lengthAdjust="spacingAndGlyphs">Blood Pressure (mmHg)</text>
<text class="t" x="178.6" y="543.1" font-size="8.8" font-weight="bold" fill="#333" textLength="48.2" lengthAdjust="spacingAndGlyphs">Time (hours)</text>
<line x1="275" y1="480.6" x2="296.9" y2="480.6" stroke="#262626" stroke-width="1.4" stroke-dasharray="3.2 2.2"/>
<text class="n" x="299.3" y="482.5" font-size="7.5" fill="#333333" textLength="25.6" lengthAdjust="spacingAndGlyphs">CF group</text>
<line x1="275" y1="492.3" x2="296.9" y2="492.3" stroke="#262626" stroke-width="1.4"/>
<text class="n" x="299.3" y="494.2" font-size="7.5" fill="#333333" textLength="39" lengthAdjust="spacingAndGlyphs">HighBP group</text>
<line x1="275" y1="504" x2="296.9" y2="504" stroke="#909090" stroke-width="1" stroke-dasharray="1 1"/>
<text class="n" x="299.3" y="505.9" font-size="7.5" fill="#333333" textLength="66.8" lengthAdjust="spacingAndGlyphs">5th and 95th percentile</text>
</svg>
</body></html>
